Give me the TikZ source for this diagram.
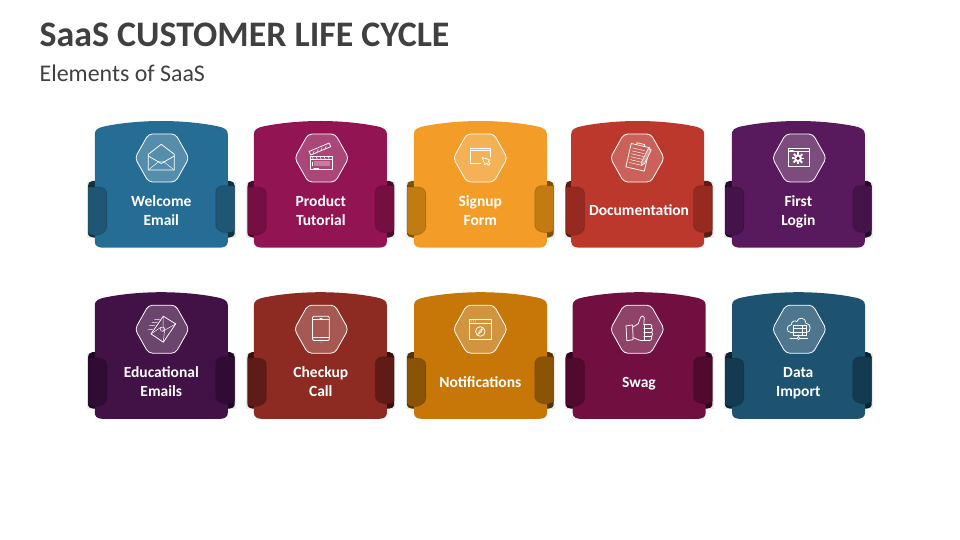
\documentclass[tikz,border=0pt]{standalone}
\usepackage{fontspec}
\setmainfont{Carlito}
\definecolor{aab}{HTML}{266D96}\definecolor{aas}{HTML}{1F5673}\definecolor{aak}{HTML}{12303F}
\definecolor{abb}{HTML}{931453}\definecolor{abs}{HTML}{750F42}\definecolor{abk}{HTML}{4A0A2A}
\definecolor{acb}{HTML}{F39C27}\definecolor{acs}{HTML}{C27B10}\definecolor{ack}{HTML}{7E5008}
\definecolor{adb}{HTML}{BC372C}\definecolor{ads}{HTML}{952A20}\definecolor{adk}{HTML}{5E1A14}
\definecolor{aeb}{HTML}{581A5C}\definecolor{aes}{HTML}{43134A}\definecolor{aek}{HTML}{270B2B}
\definecolor{bab}{HTML}{421146}\definecolor{bas}{HTML}{300C35}\definecolor{bak}{HTML}{1F0822}
\definecolor{bbb}{HTML}{8D2B22}\definecolor{bbs}{HTML}{5F1B16}\definecolor{bbk}{HTML}{3A100D}
\definecolor{bcb}{HTML}{C67708}\definecolor{bcs}{HTML}{8A5305}\definecolor{bck}{HTML}{553303}
\definecolor{bdb}{HTML}{710F40}\definecolor{bds}{HTML}{500A2E}\definecolor{bdk}{HTML}{32061C}
\definecolor{beb}{HTML}{1D5270}\definecolor{bes}{HTML}{133A50}\definecolor{bek}{HTML}{0B2433}
\definecolor{inktext}{HTML}{404040}
\tikzset{
  ico/.style={draw=white,line width=0.75pt,line join=round,line cap=round},
  icothin/.style={draw=white,line width=0.45pt,line cap=round},
  cardlabel/.style={text=white,align=center,font=\bfseries\fontsize{15.5}{19}\selectfont,inner sep=0pt}
}
\newcommand{\icoEnvelope}{
  \draw[ico] (-13.7,-3.7) -- (-0.7,-13.7) -- (12.3,-3.7) -- (12.3,12) -- (-13.7,12) -- cycle;
  \draw[ico] (-13.7,-2) -- (-0.7,5.5) -- (12.3,-2);
  \draw[icothin] (-13.7,12) -- (-3,3.5) -- (1.5,3.5) -- (12.3,12);
}
\newcommand{\icoClapper}{
  \draw[ico] (-11.3,-1.5) rectangle (10.3,11.8);
  \draw[ico] (-12.7,-6.5) -- (7.5,-15) -- (9,-11.3) -- (-11,-3) -- cycle;
  \foreach \k in {-9,-5,-1,3} {\draw[icothin] (\k,-7.6-0.42*\k) -- (\k+1.5,-7.6-0.42*\k-3);}
  \foreach \k in {-10,-6,-2,2,6} {\draw[icothin] (\k,-1.5) -- (\k+2,1.7);}
  \draw[icothin] (-11.3,1.7) -- (10.3,1.7);
  \fill[white,opacity=0.3] (-8,3.2) rectangle (8.5,8);
  \draw[icothin] (-8,10) -- (-3,10);
  \draw[icothin] (-9.5,4) -- (-9.5,8);
}
\newcommand{\icoWindowCursor}{
  \draw[ico] (0.5,5.3) -- (-9.7,5.3) -- (-9.7,-9.7) -- (9.7,-9.7) -- (9.7,-1);
  \draw[icothin] (-9.7,-7.3) -- (9.7,-7.3);
  \draw[ico] (2,-0.5) -- (9.7,1.8) -- (7.8,3.4) -- (9.8,5.7) -- (8,7.2) -- (6.2,5) -- (4.5,6.8) -- cycle;
}
\newcommand{\icoClipboard}{
  \begin{scope}[shift={(0.5,-0.7)},rotate=-13]
    \draw[ico] (-9.5,-12) rectangle (9.5,12);
    \draw[ico] (-4,-12.5) -- (-4,-14) -- (4,-14) -- (4,-12.5);
    \foreach \k in {-8,-5,-2,1,4,7} {\draw[icothin] (-7,\k) -- (5,\k);}
  \end{scope}
  \draw[ico,fill=adb!55!white] (4.5,3.5) -- (11,-9.5) -- (14,-8) -- (7.5,5) -- (4.3,7.5) -- cycle;
}
\newcommand{\icoWindowGear}{
  \draw[ico] (-11,-9.7) rectangle (9.7,8);
  \draw[icothin] (-11,-6.3) -- (9.7,-6.3);
  \draw[icothin] (-9.5,-8) -- (-6,-8);
  \fill[white] (-1.3,0.3) circle (3.9);
  \foreach \a in {0,45,...,315} {\fill[white] (-1.3,0.3) ++(\a:2.6) ++(\a-40:1.2) -- ++(\a:2.5) -- ++(\a+90:1.9) -- ++(\a:-2.5) -- cycle;}
  \fill[aeb] (-1.3,0.3) circle (1.8);
}
\newcommand{\icoFastMail}{
  \draw[ico] (1.3,-13) -- (13.7,-5.3) -- (1.3,13) -- (-11,4.7) -- cycle;
  \draw[icothin] (1.3,-13) -- (1,2) -- (13.7,-5.3);
  \draw[icothin] (-11,4.7) -- (-1,-2);
  \draw[icothin] (1.3,13) -- (2.5,1.5);
  \draw[icothin] (0.6,0) circle (2.2);
  \draw[icothin] (-7.5,-9.5) -- (-2,-10);
  \draw[icothin] (-10,-6.5) -- (-4.5,-7);
  \draw[icothin] (-12.5,-3.5) -- (-7,-4);
  \draw[icothin] (-14.3,0.7) -- (-9,0);
}
\newcommand{\icoTablet}{
  \draw[ico,rounded corners=1.2pt] (-8.7,-13) rectangle (8,11.3);
  \draw[icothin] (-8.7,-9.7) -- (8,-9.7);
  \draw[icothin] (-8.7,8) -- (8,8);
  \draw[icothin] (-1.5,-11.4) -- (0.8,-11.4);
  \fill[white] (-0.3,13) circle (0.4);
}
\newcommand{\icoWindowCompass}{
  \draw[ico] (-10.7,-10.3) rectangle (10.7,10);
  \draw[icothin] (-10.7,-6) -- (10.7,-6);
  \foreach \k in {-9,-7,-5} {\fill[white] (\k,-8.2) circle (0.5);}
  \draw[ico] (0,2.3) circle (4.8);
  \draw[icothin] (-3,5.3) -- (3,-0.7);
  \draw[icothin] (-1.5,2.3) -- (1.5,-0.5) -- (1.5,2.3) -- (-1.5,5) -- cycle;
}
\newcommand{\icoThumb}{
  \draw[ico] (-11.3,-3.3) -- (-4.7,-4.3) -- (-4.2,10.5) -- (-10.5,11.5) -- cycle;
  \draw[ico] (-4.7,-2) -- (1,-5.5) -- (3.3,-12) .. controls (4,-13.8) and (6.8,-13.8) .. (7,-11.5) -- (6.5,-4.7) -- (13.5,-4.7) .. controls (15,-4.7) and (15,-1) .. (14,-1) .. controls (15.5,-1) and (15.5,3) .. (14,3) .. controls (15.5,3) and (15.5,7) .. (13.8,7) .. controls (15,7) and (14.5,11.3) .. (12.5,11.3) -- (3,11.3) -- (-4.2,8.5);
  \draw[icothin] (6.5,-1) -- (14,-1);
  \draw[icothin] (6.5,3) -- (14,3);
  \draw[icothin] (6.5,7) -- (13.8,7);
  \draw[icothin] (6.5,-4.7) -- (6.5,11);
}
\newcommand{\icoCloud}{
  \draw[ico] (-6.5,3.3) -- (-8,3.3) .. controls (-13.5,3.3) and (-13.5,-4) .. (-8,-4.5) .. controls (-8,-8.5) and (-3.5,-9) .. (-2.5,-7.5) .. controls (-1,-12.5) and (6,-12.5) .. (6.5,-6) .. controls (12,-6) and (12.5,3.3) .. (7,3.3);
  \draw[icothin] (-6,-3.7) rectangle (6.7,5.7);
  \draw[icothin] (-6,-0.6) -- (6.7,-0.6);
  \draw[icothin] (-6,2.6) -- (6.7,2.6);
  \draw[icothin] (2.5,-3.7) -- (2.5,5.7);
  \draw[icothin] (-0.8,5.7) -- (-0.8,7.5);
  \draw[ico] (-9.3,9) -- (-2.4,9);
  \draw[ico] (0.8,9) -- (8.3,9);
  \draw[icothin] (-0.8,9) circle (1.5);
}
% #1 x-centre, #2 top y, #3 colour prefix, #4 node name, #5 label, #6 icon, #7 body dx, #8 hexagon dx
\newcommand{\card}[8]{
\begin{scope}[shift={(#1,#2)}]
  \fill[black,opacity=0.07] (-74.5,61) rectangle (-66,117);
  \fill[black,opacity=0.07] (66,61) rectangle (74.5,117);
  \fill[#3k] (-60,60) -- (-69,60) .. controls (-72,60.5) and (-73.3,62) .. (-73.3,65) -- (-73.3,113) .. controls (-73.3,115) and (-71,116) .. (-68,116.5) -- (-60,116.5) -- cycle;
  \fill[#3k] (60,60) -- (69,60) .. controls (72,60.5) and (73.3,62) .. (73.3,65) -- (73.3,113) .. controls (73.3,115) and (71,116) .. (68,116.5) -- (60,116.5) -- cycle;
  \begin{scope}[shift={(#7,0)}]
  \fill[#3b] (-66.5,13) .. controls (-66.5,8.5) and (-63,6.5) .. (-55,5) .. controls (-40,2) and (-20,0) .. (0,0) .. controls (20,0) and (40,2) .. (55,5) .. controls (63,6.5) and (66.5,8.5) .. (66.5,13)
    -- (66.5,120.7) .. controls (66.5,125) and (63,126.7) .. (58,126.7) -- (-58,126.7) .. controls (-63,126.7) and (-66.5,125) .. (-66.5,120.7) -- cycle;
  \end{scope}
  \fill[#3s,draw=black,draw opacity=0.10,line width=1.2pt] (-73.3,66) -- (-62,66) .. controls (-57,66.5) and (-54.5,69) .. (-54.5,73) -- (-54.5,106) .. controls (-54.5,111) and (-60,114) .. (-66,114.5) .. controls (-70,114.5) and (-73.3,113) .. (-73.3,111) -- cycle;
  \fill[#3s,draw=black,draw opacity=0.10,line width=1.2pt] (73.3,64.5) -- (62,64.5) .. controls (57,65) and (54.5,67.5) .. (54.5,71.5) -- (54.5,104.5) .. controls (54.5,109) and (60,111.5) .. (66,111.8) .. controls (70,111.8) and (73.3,110.5) .. (73.3,108.5) -- cycle;
  \begin{scope}[shift={(#8,37)}]
  \path[fill=white,fill opacity=0.22,draw=white,line width=0.8pt,line join=round,rounded corners=4pt]
    (-27,0) -- (-13.5,-24) -- (13.5,-24) -- (27,0) -- (13.5,24) -- (-13.5,24) -- cycle;
  #6
  \end{scope}
  \node[cardlabel] (#4) at (0,91) {\strut #5\strut};
\end{scope}
}
\begin{document}
\begin{tikzpicture}[x=1pt,y=-1pt]
\useasboundingbox (0,0) rectangle (960,540);
\fill[white] (0,0) rectangle (960,540);
\node[anchor=base west,inner sep=0pt,text=inktext,font=\bfseries\fontsize{35.9}{40}\selectfont] (title) at (39.5,46.5) {SaaS CUSTOMER LIFE CYCLE};
\node[anchor=base west,inner sep=0pt,text=inktext,font=\fontsize{23.9}{28}\selectfont] (subtitle) at (39.5,81.2) {Elements of SaaS};
\card{161.3}{121}{aa}{welcome}{Welcome\\Email}{\icoEnvelope}{0}{0.7}
\card{320.8}{121}{ab}{tutorial}{Product\\Tutorial}{\icoClapper}{-0.4}{0.9}
\card{480.3}{121}{ac}{signup}{Signup\\Form}{\icoWindowCursor}{0}{0}
\card{639}{121}{ad}{documentation}{Documentation}{\icoClipboard}{-1.3}{-1.7}
\card{798.3}{121}{ae}{login}{First\\Login}{\icoWindowGear}{0}{1}
\card{161.3}{292.2}{ba}{educational}{Educational\\Emails}{\icoFastMail}{0}{0.7}
\card{320.8}{292.2}{bb}{checkup}{Checkup\\Call}{\icoTablet}{-0.4}{0.5}
\card{480.3}{292.2}{bc}{notifications}{Notifications}{\icoWindowCompass}{0.2}{0}
\card{639}{292.2}{bd}{swag}{Swag}{\icoThumb}{0.2}{-1.7}
\card{798.3}{292.2}{be}{dataimport}{Data\\Import}{\icoCloud}{0.2}{1}
\end{tikzpicture}
\end{document}
